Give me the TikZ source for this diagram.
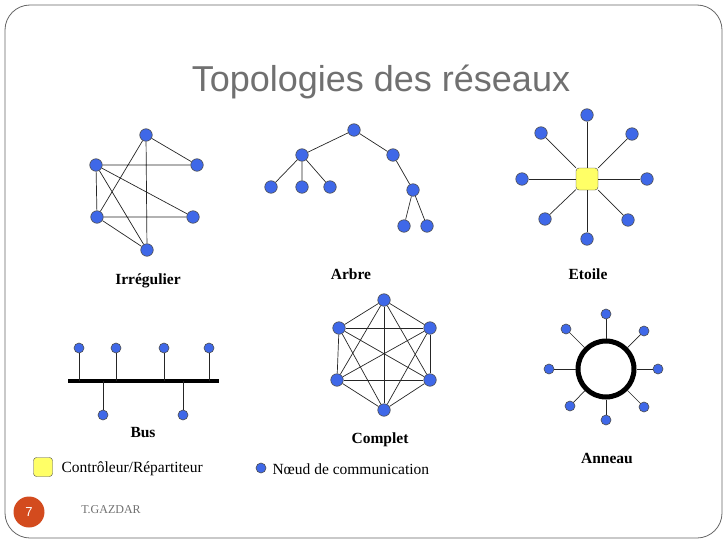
\documentclass[tikz,border=0pt]{standalone}
\usepackage{fontspec}
\setmainfont{Liberation Serif}
\newfontfamily\titlefont{Liberation Sans}
\definecolor{nblue}{HTML}{3F68E8}
\definecolor{nyel}{HTML}{FFFF66}
\definecolor{tgrey}{HTML}{707070}
\definecolor{ored}{HTML}{D34B1E}
\begin{document}
\begin{tikzpicture}[x=1pt,y=-1pt,
  nd/.style={circle,draw=black!70,fill=nblue,inner sep=0pt,minimum size=12.5pt,line width=0.6pt},
  sn/.style={nd,minimum size=10pt},
  ln/.style={draw=black!85,line width=0.7pt},
  lbl/.style={font=\bfseries\fontsize{15.5}{18}\selectfont}]
\useasboundingbox (0,0) rectangle (728,546);
\draw[black!60,line width=0.8pt,rounded corners=25pt] (5,5) rectangle (722,538);
\node[tgrey,font=\titlefont\fontsize{36}{42}\selectfont] (title) at (381,82) {Topologies des réseaux};
% Irregular
\node[nd] (i1) at (146,135) {}; \node[nd] (i2) at (96,165) {}; \node[nd] (i3) at (197,165) {};
\node[nd] (i4) at (97,217) {}; \node[nd] (i5) at (193,217) {}; \node[nd] (i6) at (147,250) {};
\draw[ln] (i1)--(i3) (i1)--(i4) (i1)--(i6) (i2)--(i3) (i2)--(i5) (i2)--(i4) (i2)--(i6) (i4)--(i5) (i4)--(i6);
\node[lbl] (li) at (148,281) {Irrégulier};
% Tree
\node[nd] (t0) at (354,130) {}; \node[nd] (t1) at (302,155) {}; \node[nd] (t2) at (393,155) {};
\node[nd] (t3) at (271,187) {}; \node[nd] (t4) at (302,187) {}; \node[nd] (t5) at (330,187) {};
\node[nd] (t6) at (413,190) {}; \node[nd] (t7) at (404,226) {}; \node[nd] (t8) at (427,226) {};
\draw[ln] (t0)--(t1) (t0)--(t2) (t1)--(t3) (t1)--(t4) (t1)--(t5) (t2)--(t6) (t6)--(t7) (t6)--(t8);
\node[lbl] (la) at (351,274) {Arbre};
% Star
\node[draw=black!70,fill=nyel,rounded corners=3pt,minimum size=22pt,inner sep=0pt] (sc) at (587,179) {};
\foreach \n/\p in {s1/{(587,115)},s2/{(541,133)},s3/{(632,134)},s4/{(522,179)},s5/{(647,179)},s6/{(545,219)},s7/{(628,220)},s8/{(587,239)}}{
  \node[nd] (\n) at \p {}; \draw[ln] (sc)--(\n);}
\node[lbl] (ls) at (588,274) {Etoile};
% Bus
\coordinate (bl) at (68,381); \coordinate (br) at (219,381);
\draw[line width=4.5pt] (bl)--(br);
\foreach \n/\x in {b1/79,b2/116,b3/164,b4/209}{
  \node[sn] (\n) at (\x,348) {}; \coordinate (\n c) at (\x,381); \draw[ln] (\n)--(\n c);}
\foreach \n/\x in {b5/103,b6/183}{
  \node[sn] (\n) at (\x,415) {}; \coordinate (\n c) at (\x,381); \draw[ln] (\n)--(\n c);}
\node[lbl] (lb) at (143,433) {Bus};
% Complete
\node[nd] (c1) at (384,300) {}; \node[nd] (c2) at (339,328) {}; \node[nd] (c3) at (430,328) {};
\node[nd] (c4) at (337,380) {}; \node[nd] (c5) at (430,380) {}; \node[nd] (c6) at (384,410) {};
\foreach \a/\b in {c1/c2,c1/c3,c1/c4,c1/c5,c1/c6,c2/c3,c2/c4,c2/c5,c2/c6,c3/c4,c3/c5,c3/c6,c4/c5,c4/c6,c5/c6}{\draw[ln] (\a)--(\b);}
\node[lbl] (lc) at (380,440) {Complet};
% Ring
\node[circle,draw=black,line width=5pt,minimum size=56pt,inner sep=0pt] (ring) at (606,369) {};
\foreach \n/\p in {r1/{(606,314)},r2/{(644,331)},r3/{(658,369)},r4/{(644,407)},r5/{(606,420)},r6/{(570,406)},r7/{(549,369)},r8/{(566,329)}}{
  \node[sn] (\n) at \p {}; \draw[ln] (\n)--(ring);}
\node[lbl] (lr) at (607,458) {Anneau};
% Legend
\node[draw=black!70,fill=nyel,rounded corners=3pt,minimum size=19pt,inner sep=0pt] (lg1) at (43,467) {};
\node[anchor=west,font=\fontsize{15.5}{18}\selectfont] (lt1) at (58,469) {Contrôleur/Répartiteur};
\node[sn] (lg2) at (261,468) {};
\node[anchor=west,font=\fontsize{15.5}{18}\selectfont] (lt2) at (269,469) {Nœud de communication};
% Footer
\node[circle,fill=ored,minimum size=31pt,inner sep=0pt,text=white,font=\titlefont\fontsize{13}{15}\selectfont] (pg) at (29,512) {7};
\node[tgrey,font=\fontsize{12}{14}\selectfont] (au) at (111,510) {T.GAZDAR};
\end{tikzpicture}
\end{document}
